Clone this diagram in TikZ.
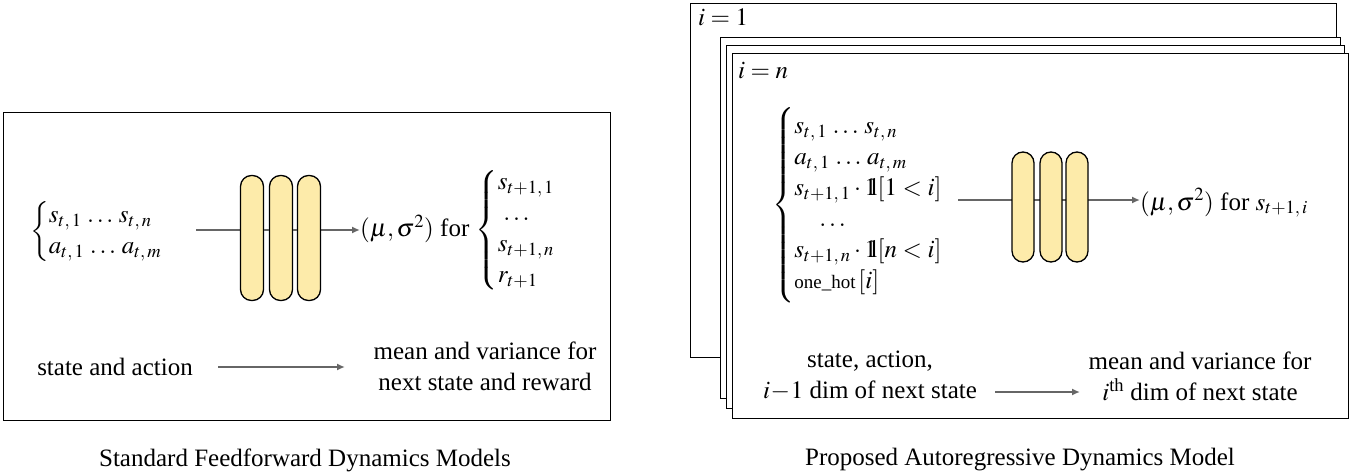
\documentclass[tikz,border=0pt]{standalone}
\usepackage{amsmath}
\usepackage{mathptmx}
\usepackage{fontspec}
\setmainfont{Liberation Serif}
\usetikzlibrary{arrows.meta}
\newcommand{\indic}{\mathrm{1\mkern-4.5mu l}}
\definecolor{layerfill}{RGB}{253,235,170}
\begin{document}
\begin{tikzpicture}[x=1pt,y=-1pt,
  every node/.style={font=\fontsize{25}{31}\selectfont},
  box/.style={draw,line width=1pt,fill=white},
  layer/.style={draw,line width=1.3pt,fill=layerfill,rounded corners=11pt},
  arr/.style={draw=black!60,line width=2pt,-{Latex[length=8pt,width=7pt]}},
  txt/.style={inner sep=0pt,align=center}]
\useasboundingbox (0,0) rectangle (1356,476);
% left panel
\node[box,minimum width=607pt,minimum height=308pt,anchor=north west] (L) at (3,112) {};
\node[txt,anchor=west] (lin) at (30,232) {$\left\{\begin{array}{@{}l@{}}s_{t,\,1}\,\ldots\,s_{t,\,n}\\ a_{t,\,1}\,\ldots\,a_{t,\,m}\end{array}\right.$};
\coordinate (la) at (196,230);
\node[txt,anchor=west] (lout) at (360,230) {$(\mu,\sigma^2)$ for $\left\{\begin{array}{@{}l@{}}s_{t+1,\,1}\\ \;\ldots\\ s_{t+1,\,n}\\ r_{t+1}\end{array}\right.$};
\draw[arr] (la) -- (lout.west |- la);
\foreach \x/\n in {252/l1,281/l2,309/l3}
  \node[layer,minimum width=23pt,minimum height=125pt] (\n) at (\x,238) {};
\draw[black!60,line width=2pt] (l1.east |- la) -- (l2.west |- la) (l2.east |- la) -- (l3.west |- la);
\node[txt] (ls) at (115,367) {state and action};
\node[txt] (lm) at (485,366) {mean and variance for\\next state and reward};
\draw[arr] (218,367) coordinate (lsa) -- (345,367) coordinate (lsb);
\node[txt] (cap1) at (305,460) {Standard Feedforward Dynamics Models};
% right panel
\node[box,minimum width=646pt,minimum height=354pt,anchor=north west] (b1) at (690,3) {};
\node[txt,anchor=north west] (i1) at (698,9) {$i=1$};
\node[box,minimum width=620pt,minimum height=361pt,anchor=north west] (b2) at (720,37) {};
\node[box,minimum width=618pt,minimum height=363pt,anchor=north west] (b3) at (726,45) {};
\node[box,minimum width=616pt,minimum height=365pt,anchor=north west] (b4) at (732,53) {};
\node[txt,anchor=north west] (in) at (738,62) {$i=n$};
\node[txt,anchor=west] (rin) at (772,205) {$\left\{\begin{array}{@{}l@{}}s_{t,\,1}\,\ldots\,s_{t,\,n}\\ a_{t,\,1}\,\ldots\,a_{t,\,m}\\ s_{t+1,\,1}\cdot\indic[1<i]\\ \quad\ldots\\ s_{t+1,\,n}\cdot\indic[n<i]\\ \text{\fontsize{19}{22}\selectfont one\_hot}\,[i]\end{array}\right.$};
\coordinate (ra) at (958,200);
\node[txt,anchor=west] (rout) at (1140,203) {$(\mu,\sigma^2)$ for $s_{t+1,\,i}$};
\draw[arr] (ra) -- (rout.west |- ra);
\foreach \x/\n in {1023/r1,1051/r2,1077/r3}
  \node[layer,minimum width=22pt,minimum height=110pt] (\n) at (\x,207) {};
\draw[black!60,line width=2pt] (r1.east |- ra) -- (r2.west |- ra) (r2.east |- ra) -- (r3.west |- ra);
\node[txt] (rs) at (870,376) {state, action,\\$i\!-\!1$ dim of next state};
\node[txt] (rm) at (1200,376) {mean and variance for\\$i^{\text{th}}$ dim of next state};
\draw[arr] (995,392) coordinate (rsa) -- (1080,392) coordinate (rsb);
\node[txt] (cap2) at (1020,460) {Proposed Autoregressive Dynamics Model};
\end{tikzpicture}
\end{document}
